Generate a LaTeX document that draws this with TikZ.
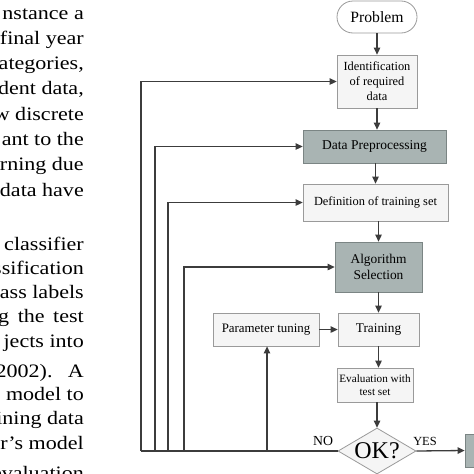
\documentclass[tikz,border=0pt]{standalone}
\usepackage{fontspec}
\setmainfont{Liberation Serif}
\newfontfamily\parafont[FakeStretch=1.16]{Liberation Serif}
\usetikzlibrary{arrows.meta,shapes.geometric,calc}
\definecolor{boxfill}{HTML}{F5F5F5}
\definecolor{boxborder}{HTML}{9A9A9A}
\definecolor{greyfill}{HTML}{A9B4B3}
\definecolor{greyborder}{HTML}{7B8584}
\definecolor{linec}{HTML}{3C3C3C}
\tikzset{
  box/.style={draw=boxborder, fill=boxfill, line width=0.8pt, inner sep=0pt, align=center, font=\fontsize{12.4}{15}\selectfont},
  greybox/.style={box, fill=greyfill, draw=greyborder},
  arr/.style={draw=linec, line width=1.3pt, -{Triangle[length=7pt,width=6.5pt]}},
  ln/.style={draw=linec, line width=1.3pt},
  paraline/.style={anchor=base east, inner sep=0pt, text=black, font=\parafont\fontsize{19}{21}\selectfont},
  lab/.style={inner sep=0pt, text=black}
}
\begin{document}
\begin{tikzpicture}[x=1pt,y=-1pt]
\useasboundingbox (0,0) rectangle (474,474);
\fill[white] (0,0) rectangle (474,474);
\clip (0,0) rectangle (474,474);
% left text column
\node[paraline] (t0) at (84,19) {nstance a};
\node[paraline] (t1) at (84,44) {final year};
\node[paraline] (t2) at (84,69.6) {ategories,};
\node[paraline] (t3) at (84,94.9) {dent data,};
\node[paraline] (t4) at (84,120.2) {w discrete};
\node[paraline] (t5) at (84,145.5) {ant to the};
\node[paraline] (t6) at (84,170.8) {rning due};
\node[paraline] (t7) at (84,196.1) {data have};
\node[paraline] (t9) at (84,250) {classifier};
\node[paraline] (t10) at (84,274) {ssification};
\node[paraline] (t11) at (84,298) {ass labels};
\node[paraline] (t12) at (84,322.5) {g\hspace{3pt} the\hspace{3pt} test};
\node[paraline] (t13) at (84,347) {jects into};
\node[paraline] (t14) at (84,377) {2002).\hspace{8pt} A};
\node[paraline] (t15) at (84,400.5) {e model to};
\node[paraline] (t16) at (84,424) {ining data};
\node[paraline] (t17) at (84,449) {r’s model};
\node[paraline] (t18) at (84,479) {evaluation};
% flowchart nodes
\node[box, rounded corners=16pt, fill=white, minimum width=80pt, minimum height=32pt, font=\fontsize{15.7}{18}\selectfont] (prob) at (377,17) {Problem};
\node[box, minimum width=80pt, minimum height=53pt] (ident) at (377,81.5) {Identification\\of required\\data};
\node[greybox, minimum width=143pt, minimum height=33pt, font=\fontsize{13.5}{16}\selectfont] (dp) at (374.5,146.5) {Data Preprocessing};
\node[box, minimum width=145pt, minimum height=37pt] (def) at (375.5,202.5) {Definition of training set};
\node[greybox, minimum width=87pt, minimum height=50pt, font=\fontsize{13.4}{16}\selectfont] (alg) at (378.5,267) {Algorithm\\Selection};
\node[box, minimum width=81pt, minimum height=33pt, font=\fontsize{13.3}{16}\selectfont] (train) at (378.5,329.5) {Training};
\node[box, minimum width=106pt, minimum height=33pt, font=\fontsize{12.9}{15}\selectfont] (pt) at (266,329.5) {Parameter tuning};
\node[box, minimum width=76pt, minimum height=34pt, font=\fontsize{11.2}{13.5}\selectfont] (eval) at (375,385) {Evaluation with\\test set};
\node[box, diamond, aspect=1.7, minimum width=78pt, minimum height=46pt, font=\fontsize{24}{26}\selectfont] (ok) at (377,451) {\raisebox{-3pt}{OK?}};
\node[greybox, minimum width=34pt, minimum height=33pt] (final) at (482,450.5) {};
\node[lab, font=\fontsize{13.8}{16}\selectfont] (no) at (323,441) {NO};
\node[lab, font=\fontsize{12.4}{15}\selectfont] (yes) at (425,441) {YES};
% feedback coordinates
\coordinate (b1) at (141,451);
\coordinate (b2) at (155,451);
\coordinate (b3) at (168,451);
\coordinate (b4) at (184,451);
\coordinate (b5) at (267,451);
% connectors
\draw[arr] (prob) -- (ident);
\draw[arr] (ident.south) -- (ident.south |- dp.north);
\draw[arr] (dp.south -| def.north) -- (def.north);
\draw[arr] (alg.north |- def.south) -- (alg.north);
\draw[arr] (alg) -- (train);
\draw[arr] (train.south) -- (train.south |- eval.north);
\draw[arr] (eval.south -| ok.north) -- (ok.north);
\draw[arr] (pt) -- (train);
\draw[arr] (ok.east) -- (final.west);
\draw[ln] (ok.west) -- (b1);
\draw[arr] (b1) |- (ident.west);
\draw[arr] (b2) |- (dp.west);
\draw[arr] (b3) |- (def.west);
\draw[arr] (b4) |- (alg.west);
\draw[arr] (b5) -- (b5 |- pt.south);
\end{tikzpicture}
\end{document}
